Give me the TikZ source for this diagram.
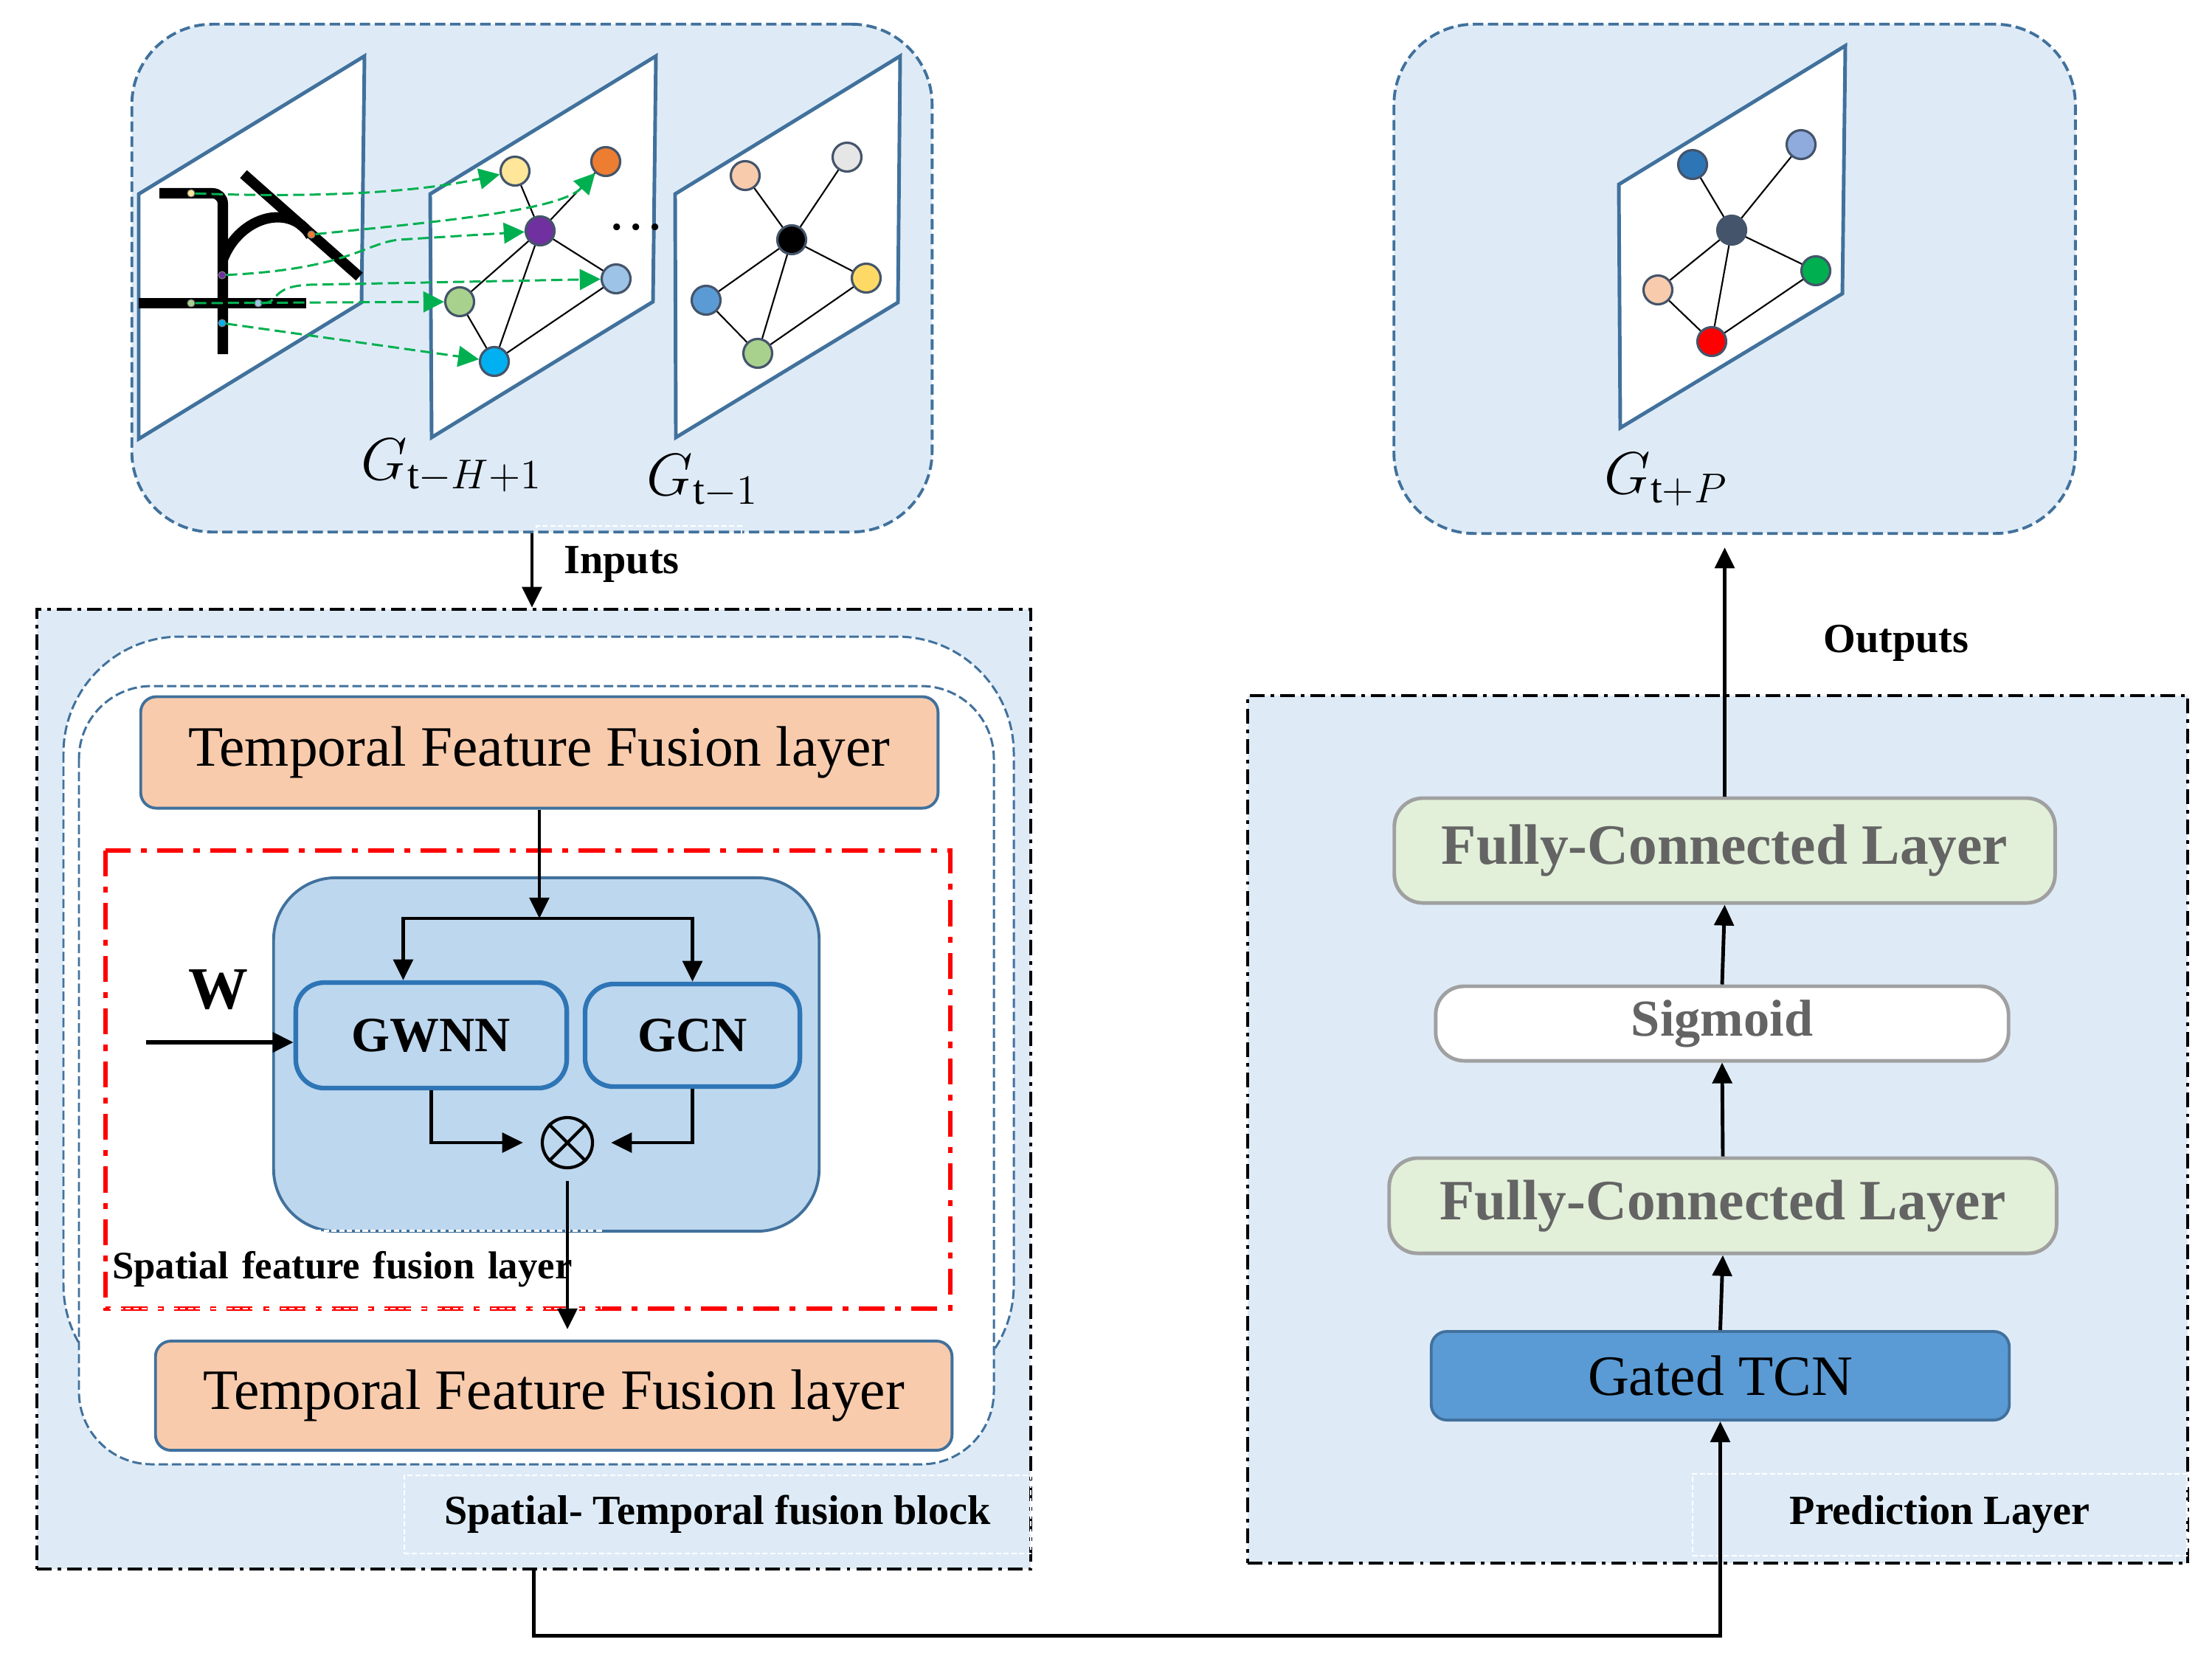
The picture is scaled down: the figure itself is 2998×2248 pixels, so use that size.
\RequirePackage{fix-cm}
\documentclass[tikz,border=0pt]{standalone}
\usepackage{fontspec}
\setmainfont{Liberation Serif}
\usepackage{tikz}
\usetikzlibrary{arrows.meta}

\definecolor{paleblue}{RGB}{222,235,247}
\definecolor{edgeblue}{RGB}{65,113,156}
\definecolor{midblue}{RGB}{189,215,238}
\definecolor{deepblue}{RGB}{46,117,182}
\definecolor{peach}{RGB}{248,203,173}
\definecolor{palegreen}{RGB}{226,240,217}
\definecolor{boxgray}{RGB}{160,160,160}
\definecolor{txtgray}{RGB}{100,100,100}
\definecolor{tcnblue}{RGB}{91,155,213}
\definecolor{flowgreen}{RGB}{0,176,80}
\definecolor{vxedge}{RGB}{68,84,106}
\definecolor{vyellow}{RGB}{255,230,153}
\definecolor{vorange}{RGB}{237,125,49}
\definecolor{vpurple}{RGB}{112,48,160}
\definecolor{vsky}{RGB}{157,195,230}
\definecolor{vgreen}{RGB}{169,209,142}
\definecolor{vcyan}{RGB}{0,176,240}
\definecolor{vpeach}{RGB}{248,203,173}
\definecolor{vsilver}{RGB}{231,230,230}
\definecolor{vblue}{RGB}{91,155,213}
\definecolor{vgold}{RGB}{255,217,102}
\definecolor{vnavy}{RGB}{46,117,182}
\definecolor{vlav}{RGB}{143,170,220}
\definecolor{vslate}{RGB}{68,84,106}
\definecolor{vemerald}{RGB}{0,176,80}

\tikzset{
  panel/.style={draw=edgeblue,fill=paleblue,line width=1.1pt,dash pattern=on 4pt off 1.8pt,rounded corners=31pt},
  block/.style={draw=black,fill=paleblue,line width=1.1pt,dash pattern=on 5.7pt off 2.3pt on 1.4pt off 2.3pt},
  shell/.style={draw=edgeblue,fill=white,line width=0.85pt,dash pattern=on 3.6pt off 1.5pt},
  plane/.style={draw=edgeblue,fill=white,line width=1.4pt},
  vx/.style={circle,draw=vxedge,line width=0.9pt,minimum size=0.39cm,inner sep=0pt},
  pin/.style={circle,draw=gray,line width=0.3pt,minimum size=0.1cm,inner sep=0pt},
  link/.style={line width=0.6pt},
  road/.style={line width=4pt},
  flow/.style={flowgreen,line width=0.85pt,dash pattern=on 4.3pt off 2pt,-{Triangle[length=8pt,width=8pt]}},
  arr/.style={line width=1.4pt,-{Triangle[length=8pt,width=7.5pt]}},
  layer/.style={draw=edgeblue,fill=peach,line width=1.1pt,rounded corners=6pt,font=\fontsize{22}{26}\selectfont},
  unit/.style={draw=deepblue,fill=midblue,line width=1.8pt,rounded corners=11pt,font=\fontsize{19}{23}\selectfont\bfseries},
  fcl/.style={draw=boxgray,fill=palegreen,line width=1.4pt,rounded corners=11pt,text=txtgray,font=\fontsize{22}{26}\selectfont\bfseries},
  tag/.style={font=\fontsize{16}{19}\selectfont\bfseries},
  ghost/.style={draw=white,line width=0.6pt,dash pattern=on 2pt off 1pt},
  glabel/.style={anchor=base west,inner sep=0pt,font=\fontsize{23}{27}\selectfont},
}

\begin{document}
\begin{tikzpicture}[x=0.01cm,y=-0.01cm]
\useasboundingbox (0,0) rectangle (2998,2248);

% input and output panels
\node[panel,minimum width=10.84cm,minimum height=6.88cm] (inbox) at (721,377) {};
\node[panel,minimum width=9.23cm,minimum height=6.90cm] (outbox) at (2351,378) {};

\draw[plane] (188,263) -- (494,76) -- (490,410) -- (188,595) -- cycle;
\draw[plane] (583,263) -- (889,76) -- (885,409) -- (585,593) -- cycle;
\draw[plane] (915,263) -- (1220,76) -- (1217,410) -- (916,593) -- cycle;
\draw[plane] (2194,250) -- (2501,62) -- (2497,398) -- (2196,580) -- cycle;

% road map
\draw[road,rounded corners=4pt] (216,262) -- (302,262) -- (302,480);
\draw[road] (302,352) .. controls (325,292) and (395,275) .. (421,320);
\draw[road] (330,236) -- (487,375);
\draw[road] (188,411) -- (415,411);
\node[pin,fill=vyellow] (d1) at (259,262) {};
\node[pin,fill=vorange] (d2) at (422,318) {};
\node[pin,fill=vpurple] (d3) at (301,373) {};
\node[pin,fill=vsky] (d4) at (350,411) {};
\node[pin,fill=vgreen] (d5) at (259,411) {};
\node[pin,fill=vcyan] (d6) at (301,438) {};

% graph t-H+1
\node[vx,fill=vyellow] (a1) at (698,232) {};
\node[vx,fill=vorange] (a2) at (821,219) {};
\node[vx,fill=vpurple] (a3) at (732,313) {};
\node[vx,fill=vsky] (a4) at (835,378) {};
\node[vx,fill=vgreen] (a5) at (623,409) {};
\node[vx,fill=vcyan] (a6) at (670,490) {};
\draw[link] (a1) -- (a3) (a2) -- (a3) (a3) -- (a4) (a3) -- (a5) (a3) -- (a6) (a5) -- (a6) (a4) -- (a6);

% graph t-1
\node[vx,fill=vpeach] (b1) at (1010,238) {};
\node[vx,fill=vsilver] (b2) at (1148,213) {};
\node[vx,fill=black] (b3) at (1073,325) {};
\node[vx,fill=vblue] (b4) at (957,407) {};
\node[vx,fill=vgold] (b5) at (1174,377) {};
\node[vx,fill=vgreen] (b6) at (1027,479) {};
\draw[link] (b1) -- (b3) (b2) -- (b3) (b3) -- (b4) (b3) -- (b5) (b3) -- (b6) (b4) -- (b6) (b5) -- (b6);

% graph t+P
\node[vx,fill=vnavy] (c1) at (2294,223) {};
\node[vx,fill=vlav] (c2) at (2441,196) {};
\node[vx,fill=vslate] (c3) at (2347,312) {};
\node[vx,fill=vpeach] (c4) at (2247,393) {};
\node[vx,fill=vemerald] (c5) at (2461,367) {};
\node[vx,fill=red] (c6) at (2320,463) {};
\draw[link] (c1) -- (c3) (c2) -- (c3) (c3) -- (c4) (c3) -- (c5) (c3) -- (c6) (c4) -- (c6) (c5) -- (c6);

% road points to graph nodes
\draw[flow] (d1) .. controls (420,268) and (560,262) .. (a1);
\draw[flow] (d2) .. controls (600,300) and (760,285) .. (a2);
\draw[flow] (d3) .. controls (470,365) and (495,330) .. (540,325) -- (a3);
\draw[flow] (d4) .. controls (380,411) and (365,388) .. (420,386) -- (a4);
\draw[flow] (d5) -- (a5);
\draw[flow] (d6) -- (a6);

\node[anchor=base,font=\fontsize{22}{26}\selectfont] (dots) at (862,311) {\ldots};
\node[glabel] (lab1) at (489,650) {$G_{\mathrm{t}-H+1}$};
\node[glabel] (lab2) at (876,671) {$G_{\mathrm{t}-1}$};
\node[glabel] (lab3) at (2174,669) {$G_{\mathrm{t}+P}$};

% spatial-temporal fusion block
\node[block,minimum width=13.47cm,minimum height=13.01cm] (stblock) at (723.5,1476.5) {};
\node[ghost,tag,text width=2.03cm,inner xsep=0.37cm,minimum height=1.04cm,align=left] (inputs) at (866,765) {Inputs};
\draw[arr] (inbox.south) -- (inbox.south |- stblock.north);

\draw[shell,rounded corners=45pt] (86,863) rectangle (1374,1900);
\draw[shell,rounded corners=28pt] (107,930) rectangle (1347,1985);
\node[layer,minimum width=10.8cm,minimum height=1.51cm] (tff1) at (731,1020) {Temporal Feature Fusion layer};
\node[layer,minimum width=10.79cm,minimum height=1.48cm] (tff2) at (750.5,1892) {Temporal Feature Fusion layer};

\draw[red,line width=1.6pt,dash pattern=on 10pt off 4pt on 2.3pt off 4pt] (143,1153) rectangle (1288,1774);
\node[draw=edgeblue,fill=midblue,line width=1.1pt,rounded corners=24pt,minimum width=7.39cm,minimum height=4.79cm] (sfbox) at (740.5,1429.5) {};
\node[unit,minimum width=3.67cm,minimum height=1.43cm] (gwnn) at (584.5,1403.5) {GWNN};
\node[unit,minimum width=2.91cm,minimum height=1.39cm] (gcn) at (938.5,1403.5) {GCN};
\node[circle,draw,line width=1.2pt,minimum size=0.68cm,inner sep=0pt] (ot) at (769,1549) {};
\draw[line width=1.2pt] (ot.north west) -- (ot.south east) (ot.north east) -- (ot.south west);
\node[ghost,font=\fontsize{15}{18}\selectfont\bfseries,text width=6.59cm,inner xsep=0.03cm,minimum height=1.05cm,align=left] (sflabel) at (482,1721) {Spatial feature fusion layer};

\node[font=\fontsize{23}{27}\selectfont\bfseries] (wlab) at (296,1342) {W};
\coordinate (win) at (198,1413);
\draw[arr,line width=1.7pt] (win) -- (win -| gwnn.west);

\coordinate (split) at (731,1245);
\draw[arr] (tff1.south) -- (split);
\draw[arr] (split) -| ([xshift=-0.38cm]gwnn.north);
\draw[arr] (split) -| (gcn.north);
\draw[arr,shorten >=0.24cm] (gwnn.south) |- (ot.west);
\draw[arr,shorten >=0.23cm] (gcn.south) |- (ot.east);
\draw[arr,shorten <=0.16cm,shorten >=0.14cm] (ot.south) -- (ot.south |- tff2.north);

\node[ghost,tag,minimum width=8.49cm,minimum height=1.06cm] (stlabel) at (972.5,2053) {Spatial- Temporal fusion block};

% prediction layer
\node[block,minimum width=12.74cm,minimum height=11.76cm] (predblock) at (2328,1531) {};
\node[fcl,minimum width=8.95cm,minimum height=1.42cm] (fc2) at (2337.5,1153) {Fully-Connected Layer};
\node[fcl,fill=white,minimum width=7.76cm,minimum height=1.01cm,font=\fontsize{20}{24}\selectfont\bfseries] (sig) at (2334,1387.5) {Sigmoid};
\node[fcl,minimum width=9.04cm,minimum height=1.29cm] (fc1) at (2335,1634.5) {Fully-Connected Layer};
\node[draw=edgeblue,fill=tcnblue,line width=1.1pt,rounded corners=6pt,minimum width=7.83cm,minimum height=1.2cm,font=\fontsize{22}{26}\selectfont] (tcn) at (2331.5,1865) {Gated TCN};
\node[ghost,tag,minimum width=6.70cm,minimum height=1.11cm] (predlabel) at (2629,2053.5) {Prediction Layer};

\draw[arr] (tcn.north) -- (fc1.south);
\draw[arr] (fc1.north) -- (sig.south);
\draw[arr] (sig.north) -- (fc2.south);
\draw[arr,shorten >=0.17cm] (fc2.north) -- (fc2.north |- outbox.south);
\node[tag] (outputs) at (2570,872) {Outputs};

\coordinate (turn) at (723.5,2217);
\draw[arr] (stblock.south) -- (turn) -| (tcn.south);
\end{tikzpicture}
\end{document}
